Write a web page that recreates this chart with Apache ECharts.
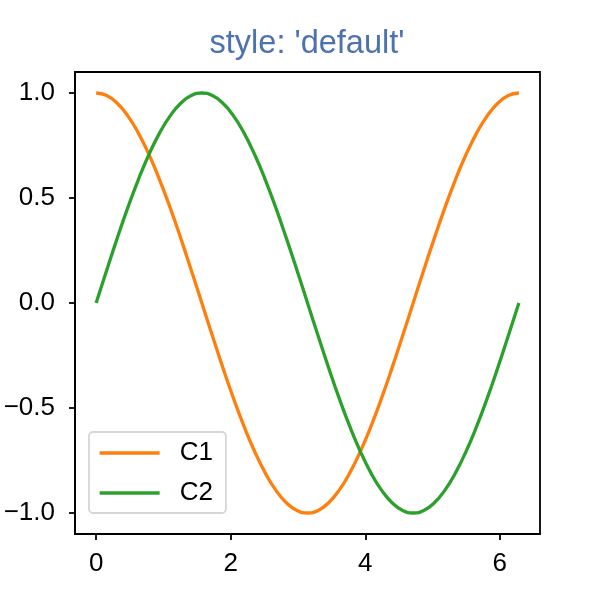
<!DOCTYPE html>
<html><head><meta charset="utf-8">
<script src="https://cdn.jsdelivr.net/npm/echarts@6/dist/echarts.min.js"></script>
<style>html,body{margin:0;padding:0;background:#fff}#c{width:600px;height:600px}</style>
</head><body><div id="c"></div>
<script>
const xs = [0, 0.157, 0.314, 0.471, 0.628, 0.785, 0.942, 1.100, 1.257, 1.414, 1.571, 1.728, 1.885, 2.042, 2.199, 2.356, 2.513, 2.670, 2.827, 2.985, 3.142, 3.299, 3.456, 3.613, 3.770, 3.927, 4.084, 4.241, 4.398, 4.555, 4.712, 4.869, 5.027, 5.184, 5.341, 5.498, 5.655, 5.812, 5.969, 6.126, 6.283];
const c1 = [1, 0.988, 0.951, 0.891, 0.809, 0.707, 0.588, 0.454, 0.309, 0.156, 0, -0.156, -0.309, -0.454, -0.588, -0.707, -0.809, -0.891, -0.951, -0.988, -1, -0.988, -0.951, -0.891, -0.809, -0.707, -0.588, -0.454, -0.309, -0.156, 0, 0.156, 0.309, 0.454, 0.588, 0.707, 0.809, 0.891, 0.951, 0.988, 1];
const c2 = [0, 0.156, 0.309, 0.454, 0.588, 0.707, 0.809, 0.891, 0.951, 0.988, 1, 0.988, 0.951, 0.891, 0.809, 0.707, 0.588, 0.454, 0.309, 0.156, 0, -0.156, -0.309, -0.454, -0.588, -0.707, -0.809, -0.891, -0.951, -0.988, -1, -0.988, -0.951, -0.891, -0.809, -0.707, -0.588, -0.454, -0.309, -0.156, 0];
const seriesNames = ['C1', 'C2'];
const xTicks = [0, 2, 4, 6];
const yTicks = [-1.0, -0.5, 0.0, 0.5, 1.0];
const titleText = "style: 'default'";

const font = 'Liberation Sans, Arial, sans-serif';
const chart = echarts.init(document.getElementById('c'), null, {renderer: 'canvas'});
const fmtY = v => (v < 0 ? '\u2212' : '') + Math.abs(v).toFixed(1);
chart.setOption({
  animation: false,
  backgroundColor: '#fff',
  title: {
    text: titleText, left: 307, top: 28, textAlign: 'center', padding: 0,
    textStyle: {color: '#4c72b0', fontSize: 32.5, fontWeight: 'normal', fontFamily: font}
  },
  grid: {left: 75, right: 60, top: 72, bottom: 66, show: true, borderColor: '#000', borderWidth: 1.8, backgroundColor: 'transparent'},
  xAxis: {
    type: 'value', min: -0.314, max: 6.597,
    splitLine: {show: false},
    axisLine: {show: true, onZero: false, lineStyle: {color: '#000', width: 1.8}},
    axisTick: {show: true, inside: false, length: 6, customValues: xTicks, lineStyle: {color: '#000', width: 1.8}},
    axisLabel: {customValues: xTicks, color: '#000', fontSize: 26, fontFamily: font, margin: 17, formatter: v => String(v)}
  },
  yAxis: {
    type: 'value', min: -1.1, max: 1.1,
    splitLine: {show: false},
    axisLine: {show: true, onZero: false, lineStyle: {color: '#000', width: 1.8}},
    axisTick: {show: true, inside: false, length: 6, customValues: yTicks, lineStyle: {color: '#000', width: 1.8}},
    axisLabel: {customValues: yTicks, color: '#000', fontSize: 26, fontFamily: font, margin: 20, formatter: fmtY}
  },
  legend: {
    orient: 'vertical', left: 89, top: 432,
    padding: [8, 13, 7, 9], itemGap: 14, itemWidth: 60, itemHeight: 20,
    borderColor: '#d6d6d6', borderWidth: 1.8, borderRadius: 4, backgroundColor: '#fff',
    itemStyle: {opacity: 0},
    lineStyle: {width: 3.3},
    textStyle: {color: '#000', fontSize: 26, fontFamily: font, padding: [0, 0, 0, 15]},
    data: seriesNames
  },
  series: [
    {name: seriesNames[0], type: 'line', data: xs.map((x, i) => [x, c1[i]]), smooth: true, symbol: 'none', color: '#ff7f0e', lineStyle: {width: 3.3, color: '#ff7f0e'}},
    {name: seriesNames[1], type: 'line', data: xs.map((x, i) => [x, c2[i]]), smooth: true, symbol: 'none', color: '#2ca02c', lineStyle: {width: 3.3, color: '#2ca02c'}}
  ]
});
</script></body></html>
